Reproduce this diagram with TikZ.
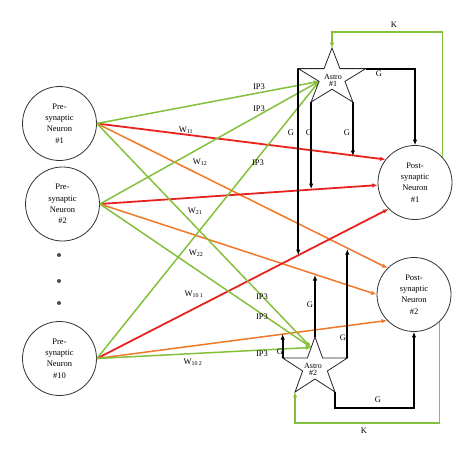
\documentclass[tikz,border=0pt]{standalone}
\usepackage{fontspec}
\setmainfont{Liberation Serif}
\usetikzlibrary{arrows.meta,calc}
\definecolor{ipgreen}{RGB}{132,192,60}
\definecolor{wred}{RGB}{230,35,30}
\definecolor{worange}{RGB}{240,120,40}
\newcommand\astrostar[5]{%
  \begin{scope}[shift={(#2,#3)},xscale=#4,yscale=-#5]
    \coordinate (#1-o1) at (90:1);
    \coordinate (#1-i1) at (54:0.382);
    \coordinate (#1-o2) at (18:1);
    \coordinate (#1-i2) at (-18:0.382);
    \coordinate (#1-o3) at (-54:1);
    \coordinate (#1-i3) at (-90:0.382);
    \coordinate (#1-o4) at (-126:1);
    \coordinate (#1-i4) at (-162:0.382);
    \coordinate (#1-o5) at (162:1);
    \coordinate (#1-i5) at (126:0.382);
  \end{scope}}
\begin{document}
\begin{tikzpicture}[x=1pt,y=-1pt,font=\fontsize{8.5}{11.3}\selectfont,
  neuron/.style={circle,draw=black!80,line width=0.8pt,minimum size=74pt,inner sep=0pt,align=center},
  lbl/.style={inner sep=0pt},
  tip/.style={-{Latex[length=5.5pt,width=4.5pt]}},
  ip/.style={tip,draw=ipgreen,line width=1.5pt},
  wr/.style={tip,draw=wred,line width=1.8pt},
  wo/.style={tip,draw=worange,line width=1.5pt},
  gl/.style={tip,draw=black,line width=2.2pt},
  kl/.style={tip,draw=ipgreen,line width=1.5pt},
  starline/.style={draw=black!85,line width=0.8pt,fill=white},
  astrotext/.style={align=center,inner sep=0pt,font=\fontsize{8}{7}\selectfont},
  dot/.style={circle,fill=black!70,minimum size=4pt,inner sep=0pt}]
\useasboundingbox (0,0) rectangle (474,455);

% neurons
\node[neuron] (pre1) at (59.5,123.5) {Pre-\\synaptic\\Neuron\\\#1};
\node[neuron] (pre2) at (62.5,204) {Pre-\\synaptic\\Neuron\\\#2};
\node[neuron] (pre10) at (59.5,358.5) {Pre-\\synaptic\\Neuron\\\#10};
\node[neuron] (post1) at (415,182.5) {Post-\\synaptic\\Neuron\\\#1};
\node[neuron] (post2) at (414,294.5) {Post-\\synaptic\\Neuron\\\#2};
\node[dot] (d1) at (59,255) {};
\node[dot] (d2) at (59,281) {};
\node[dot] (d3) at (59,303) {};

% star geometry
\astrostar{a1}{332}{77.85}{35.5}{29.85}
\astrostar{a2}{315}{367.4}{34}{30.4}
\coordinate (a1in) at (a1-i4);
\coordinate (a2in) at ($(a2-i5)!0.5!(a2-o1)$);

% synaptic weights
\draw[wr] (pre1.east) -- (post1.142.5);
\draw[wo] (pre1.east) -- (post2.135.5);
\draw[wr] (pre2.east) -- (post1.184);
\draw[wo] (pre2.east) -- (post2.180);
\draw[wr] (pre10.east) -- (post1.225.5);
\draw[wo] (pre10.east) -- (post2.224.5);

% IP3
\draw[ip] (pre1.east) -- (a1in);
\draw[ip] (pre2.east) -- (a1in);
\draw[ip] (pre10.east) -- (a1in);
\draw[ip] (pre1.east) -- (a2in);
\draw[ip] (pre2.east) -- (a2in);
\draw[ip] (pre10.east) -- (a2in);

% K feedback
\draw[kl] (post1.43) |- (a1-o1 |- 0,32) -- (a1-o1);
\draw[kl] (post2.313) |- (a2-o4 |- 0,423) -- (a2-o4);

% stars
\draw[starline] (a1-o1) -- (a1-i1) -- (a1-o2) -- (a1-i2) -- (a1-o3) -- (a1-i3) -- (a1-o4) -- (a1-i4) -- (a1-o5) -- (a1-i5) -- cycle;
\draw[starline] (a2-o1) -- (a2-i1) -- (a2-o2) -- (a2-i2) -- (a2-o3) -- (a2-i3) -- (a2-o4) -- (a2-i4) -- (a2-o5) -- (a2-i5) -- cycle;
\node[astrotext] (astro1) at (333,80) {Astro\\\#1};
\node[astrotext] (astro2) at (313,369) {Astro\\\#2};

% gliotransmitter G
\draw[gl] (a1-o5) -- (a1-o5 |- 0,255);
\draw[gl] (a1-o4) -- (a1-o4 |- 0,189);
\draw[gl] (a1-o3) -- (a1-o3 |- 0,156);
\draw[gl] (a1-o2) -| (post1.north);
\draw[gl] (a2-o5) -- (a2-o5 |- 0,334);
\draw[gl] (a2-o1) -- (a2-o1 |- 0,275);
\draw[gl] (a2-o2) -- (a2-o2 |- 0,249);
\draw[gl] (a2-o3) -- (a2-o3 |- 0,408) -| (post2.south);

% labels
\node[lbl] (lw11) at (186,130) {W\textsubscript{11}};
\node[lbl] (lw12) at (200,162) {W\textsubscript{12}};
\node[lbl] (lw21) at (195,211) {W\textsubscript{21}};
\node[lbl] (lw22) at (196,253) {W\textsubscript{22}};
\node[lbl] (lw101) at (194,294) {W\textsubscript{10 1}};
\node[lbl] (lw102) at (193,362) {W\textsubscript{10 2}};
\node[lbl] (ip1) at (259,87) {IP3};
\node[lbl] (ip2) at (259,109) {IP3};
\node[lbl] (ip3) at (258,163) {IP3};
\node[lbl] (ip4) at (262,297) {IP3};
\node[lbl] (ip5) at (262,317) {IP3};
\node[lbl] (ip6) at (262,354) {IP3};
\node[lbl] (g1) at (291,133) {G};
\node[lbl] (g2) at (309,133) {G};
\node[lbl] (g3) at (347,133) {G};
\node[lbl] (g4) at (379,74) {G};
\node[lbl] (g5) at (280,352) {G};
\node[lbl] (g6) at (310,305) {G};
\node[lbl] (g7) at (343,338) {G};
\node[lbl] (g8) at (378,400) {G};
\node[lbl] (k1) at (394,25) {K};
\node[lbl] (k2) at (364,431) {K};
\end{tikzpicture}
\end{document}
